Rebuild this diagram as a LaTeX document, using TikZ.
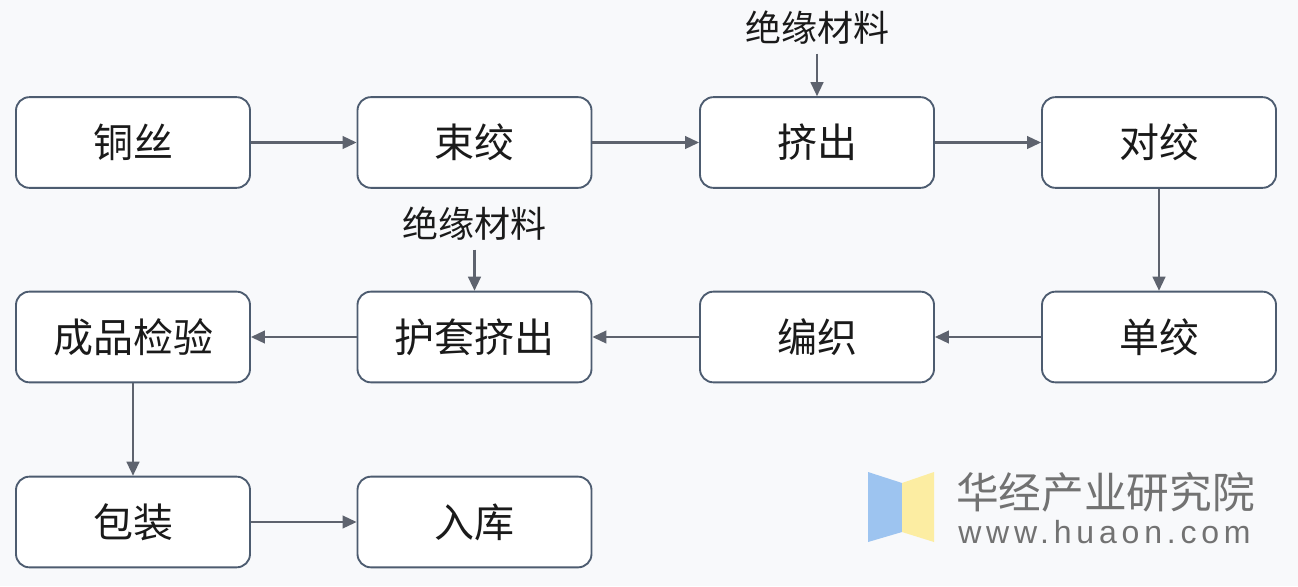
\documentclass[tikz,border=0pt]{standalone}
\usepackage{fontspec}
\setmainfont{Liberation Sans}
\newfontfamily\cjk{Noto Sans CJK SC}
\newfontfamily\urlfont[LetterSpace=15]{Liberation Sans}
\usetikzlibrary{arrows.meta}
\definecolor{bgc}{HTML}{F8F9FB}
\definecolor{boxc}{HTML}{4D5C70}
\definecolor{arrc}{HTML}{5E636E}
\definecolor{txtc}{HTML}{1A1A1A}
\definecolor{logot}{HTML}{727272}
\definecolor{logob}{HTML}{9DC4F0}
\definecolor{logoy}{HTML}{FCEDA2}
\tikzset{
  stepbox/.style={draw=boxc, line width=1.4pt, rounded corners=10pt, fill=white,
    minimum width=175.5pt, minimum height=68pt, inner sep=0pt,
    font=\cjk\fontsize{30}{36}\selectfont, text=txtc},
  matlabel/.style={font=\cjk\fontsize{27}{32}\selectfont, text=txtc, inner sep=6.5pt},
  flow/.style={draw=arrc, line width=1.6pt, -{Triangle[length=10.5pt,width=9.5pt]}}
}
\begin{document}
\begin{tikzpicture}[x=0.75pt,y=-0.75pt]
\fill[bgc] (0,0) rectangle (1298,586);
\useasboundingbox (0,0) rectangle (1298,586);
% row 1
\node[stepbox] (tongsi) at (133,142.5) {铜丝};
\node[stepbox] (shujiao) at (474.5,142.5) {束绞};
\node[stepbox] (jichu) at (817,142.5) {挤出};
\node[stepbox] (duijiao) at (1159,142.5) {对绞};
% row 2
\node[stepbox] (jianyan) at (133,337) {成品检验};
\node[stepbox] (hutao) at (474.5,337) {护套挤出};
\node[stepbox] (bianzhi) at (817,337) {编织};
\node[stepbox] (danjiao) at (1159,337) {单绞};
% row 3
\node[stepbox] (baozhuang) at (133,522) {包装};
\node[stepbox] (ruku) at (474.5,522) {入库};
% labels
\node[matlabel] (mat1) at (817,28) {绝缘材料};
\node[matlabel] (mat2) at (474.5,224) {绝缘材料};
% connectors
\draw[flow] (tongsi) -- (shujiao);
\draw[flow] (shujiao) -- (jichu);
\draw[flow] (jichu) -- (duijiao);
\draw[flow] (duijiao) -- (danjiao);
\draw[flow] (danjiao) -- (bianzhi);
\draw[flow] (bianzhi) -- (hutao);
\draw[flow] (hutao) -- (jianyan);
\draw[flow] (jianyan) -- (baozhuang);
\draw[flow] (baozhuang) -- (ruku);
\draw[flow] (mat1) -- (jichu);
\draw[flow] (mat2) -- (hutao);
% logo
\fill[logob] (868,472) -- (902,483) -- (902,532) -- (868,542) -- cycle;
\fill[logoy] (902,483) -- (934,472) -- (934,542) -- (902,532) -- cycle;
\node[anchor=west, inner sep=0pt, text=logot, font=\cjk\fontsize{32}{36}\selectfont] (logoname) at (956,492) {华经产业研究院};
\node[anchor=west, inner sep=0pt, text=logot, font=\urlfont\fontsize{24}{28}\selectfont] (logourl) at (958,532) {www.huaon.com};
\end{tikzpicture}
\end{document}
